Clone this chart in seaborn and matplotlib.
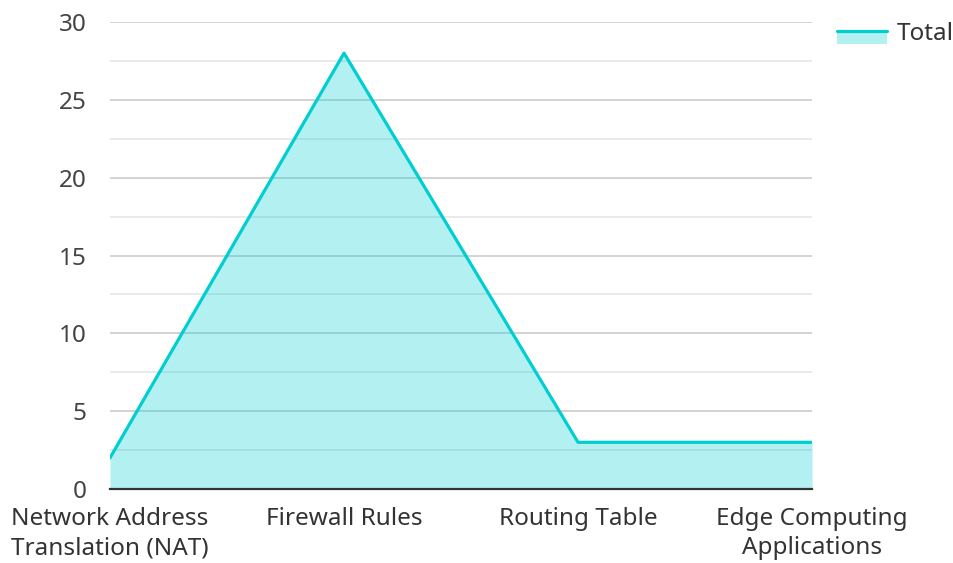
import matplotlib
matplotlib.use("Agg")
import matplotlib.pyplot as plt
import seaborn as sns
import pandas as pd
from matplotlib.legend_handler import HandlerBase
from matplotlib.patches import Rectangle
from matplotlib.lines import Line2D
from matplotlib.ticker import MultipleLocator

# data
categories = ["Network Address\nTranslation (NAT)", "Firewall Rules", "Routing Table",
              "Edge Computing\nApplications"]
totals = [2, 28, 3, 3]
yticks = [0, 5, 10, 15, 20, 25, 30]

line_color = "#00CED1"
fs = 17.5

sns.set_style("white")
plt.rcParams["font.family"] = ["Noto Sans", "DejaVu Sans"]

df = pd.DataFrame({"pos": range(len(categories)), "total": totals})

fig = plt.figure(figsize=(9.54, 5.63), dpi=100)
ax = fig.add_axes([0.1153, 0.1314, 0.7359, 0.8295])

ax.fill_between(df["pos"], df["total"], 0, color=line_color, alpha=0.3, linewidth=0, zorder=2)
sns.lineplot(data=df, x="pos", y="total", color=line_color, linewidth=2.3, ax=ax, zorder=3)

ax.set_xlim(0, len(categories) - 1)
ax.set_ylim(0, 30)
ax.set_yticks(yticks)
ax.yaxis.set_minor_locator(MultipleLocator(2.5))
ax.set_xticks(range(len(categories)))
ax.set_xticklabels(categories, linespacing=1.3)
ax.set_xlabel("")
ax.set_ylabel("")

ax.grid(axis="y", which="major", color="#cccccc", linewidth=1.2, zorder=1)
ax.grid(axis="y", which="minor", color="#e6e6e6", linewidth=1.2, zorder=1)
ax.set_axisbelow(True)

for s in ["top", "right", "left"]:
    ax.spines[s].set_visible(False)
ax.spines["bottom"].set_color("#333333")
ax.spines["bottom"].set_linewidth(1.6)
ax.spines["bottom"].set_zorder(4)

ax.tick_params(axis="y", which="both", length=0, pad=17, labelsize=fs, labelcolor="#444444")
ax.tick_params(axis="x", length=0, pad=13, labelsize=fs, labelcolor="#333333")


class AreaHandler(HandlerBase):
    def create_artists(self, legend, orig_handle, xdescent, ydescent, width, height, fontsize, trans):
        mid = -ydescent + 0.5 * height
        rect = Rectangle((-xdescent, mid - 0.75 * height), width, 0.75 * height,
                         facecolor=line_color, alpha=0.3, linewidth=0, transform=trans)
        ln = Line2D([-xdescent, -xdescent + width], [mid, mid], color=line_color,
                    linewidth=2.3, transform=trans)
        return [rect, ln]


handle = Rectangle((0, 0), 1, 1)
fig.legend([handle], ["Total"], handler_map={Rectangle: AreaHandler()},
           loc="upper left", bbox_to_anchor=(837 / 954, 1 - 22 / 563), frameon=False,
           borderpad=0, borderaxespad=0,
           fontsize=fs, handlelength=2.05, handletextpad=0.4, labelcolor="#333333")

fig.savefig("out.png", dpi=100)
